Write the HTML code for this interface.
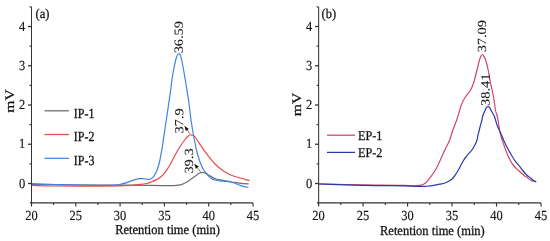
<!DOCTYPE html>
<html><head><meta charset="utf-8"><style>
html,body{margin:0;padding:0;background:#fff;}
svg{display:block;}
text{font-family:"Liberation Serif", "Times New Roman", serif;fill:#111;stroke:#111;stroke-width:0.25px;}
.tl{stroke-width:0.12px;}
.rl{stroke-width:0.05px;}
.ax{stroke:#333;stroke-width:1.35;fill:none;}
.tk{stroke:#333;stroke-width:1.15;fill:none;}
</style></head><body>
<svg width="550" height="241" viewBox="0 0 550 241">
<rect width="550" height="241" fill="#fff"/>
<path d="M31.50,6.90V203.50" class="ax" style="stroke-width:1.05;stroke:#333"/>
<path d="M29.90,202.90H253.00" class="ax"/>
<path d="M28.00,183.50H31.50" class="tk" style="stroke-width:1.3"/>
<text transform="translate(25.20,187.65) scale(1,1.110) skewX(0.1)" text-anchor="end" font-size="12.50" class="tl">0</text>
<path d="M29.50,163.88H31.50" class="tk"/>
<path d="M28.00,144.25H31.50" class="tk" style="stroke-width:1.3"/>
<text transform="translate(25.20,148.40) scale(1,1.110) skewX(0.1)" text-anchor="end" font-size="12.50" class="tl">1</text>
<path d="M29.50,124.62H31.50" class="tk"/>
<path d="M28.00,105.00H31.50" class="tk" style="stroke-width:1.3"/>
<text transform="translate(25.20,109.15) scale(1,1.110) skewX(0.1)" text-anchor="end" font-size="12.50" class="tl">2</text>
<path d="M29.50,85.38H31.50" class="tk"/>
<path d="M28.00,65.75H31.50" class="tk" style="stroke-width:1.3"/>
<text transform="translate(25.20,69.90) scale(1,1.110) skewX(0.1)" text-anchor="end" font-size="12.50" class="tl">3</text>
<path d="M29.50,46.12H31.50" class="tk"/>
<path d="M28.00,26.50H31.50" class="tk" style="stroke-width:1.3"/>
<text transform="translate(25.20,30.65) scale(1,1.110) skewX(0.1)" text-anchor="end" font-size="12.50" class="tl">4</text>
<path d="M29.50,6.88H31.50" class="tk"/>
<path d="M31.50,202.90V206.50" class="tk"/>
<text transform="translate(31.50,219.90) scale(1,1.110) skewX(0.1)" text-anchor="middle" font-size="12.50" class="tl">20</text>
<path d="M53.65,202.90V204.90" class="tk"/>
<path d="M75.80,202.90V206.50" class="tk"/>
<text transform="translate(75.80,219.90) scale(1,1.110) skewX(0.1)" text-anchor="middle" font-size="12.50" class="tl">25</text>
<path d="M97.95,202.90V204.90" class="tk"/>
<path d="M120.10,202.90V206.50" class="tk"/>
<text transform="translate(120.10,219.90) scale(1,1.110) skewX(0.1)" text-anchor="middle" font-size="12.50" class="tl">30</text>
<path d="M142.25,202.90V204.90" class="tk"/>
<path d="M164.40,202.90V206.50" class="tk"/>
<text transform="translate(164.40,219.90) scale(1,1.110) skewX(0.1)" text-anchor="middle" font-size="12.50" class="tl">35</text>
<path d="M186.55,202.90V204.90" class="tk"/>
<path d="M208.70,202.90V206.50" class="tk"/>
<text transform="translate(208.70,219.90) scale(1,1.110) skewX(0.1)" text-anchor="middle" font-size="12.50" class="tl">40</text>
<path d="M230.85,202.90V204.90" class="tk"/>
<path d="M253.00,202.90V206.50" class="tk"/>
<text transform="translate(253.00,219.90) scale(1,1.110) skewX(0.1)" text-anchor="middle" font-size="12.50" class="tl">45</text>
<text transform="translate(167.60,234.00) scale(1,1.090) skewX(0.1)" text-anchor="middle" font-size="12.50">Retention time (min)</text>
<text transform="translate(14.00,101.00) rotate(-90) scale(1.200,1) skewY(0.1)" text-anchor="middle" font-size="13.00">mV</text>
<path d="M318.60,6.90V203.50" class="ax" style="stroke-width:1.2;stroke:#4a4a4a"/>
<path d="M317.00,202.90H541.00" class="ax"/>
<path d="M315.10,183.50H318.60" class="tk" style="stroke-width:1.3"/>
<text transform="translate(312.30,187.65) scale(1,1.110) skewX(0.1)" text-anchor="end" font-size="12.50" class="tl">0</text>
<path d="M316.60,163.88H318.60" class="tk"/>
<path d="M315.10,144.25H318.60" class="tk" style="stroke-width:1.3"/>
<text transform="translate(312.30,148.40) scale(1,1.110) skewX(0.1)" text-anchor="end" font-size="12.50" class="tl">1</text>
<path d="M316.60,124.62H318.60" class="tk"/>
<path d="M315.10,105.00H318.60" class="tk" style="stroke-width:1.3"/>
<text transform="translate(312.30,109.15) scale(1,1.110) skewX(0.1)" text-anchor="end" font-size="12.50" class="tl">2</text>
<path d="M316.60,85.38H318.60" class="tk"/>
<path d="M315.10,65.75H318.60" class="tk" style="stroke-width:1.3"/>
<text transform="translate(312.30,69.90) scale(1,1.110) skewX(0.1)" text-anchor="end" font-size="12.50" class="tl">3</text>
<path d="M316.60,46.12H318.60" class="tk"/>
<path d="M315.10,26.50H318.60" class="tk" style="stroke-width:1.3"/>
<text transform="translate(312.30,30.65) scale(1,1.110) skewX(0.1)" text-anchor="end" font-size="12.50" class="tl">4</text>
<path d="M316.60,6.88H318.60" class="tk"/>
<path d="M318.60,202.90V206.50" class="tk"/>
<text transform="translate(318.60,219.90) scale(1,1.110) skewX(0.1)" text-anchor="middle" font-size="12.50" class="tl">20</text>
<path d="M340.84,202.90V204.90" class="tk"/>
<path d="M363.08,202.90V206.50" class="tk"/>
<text transform="translate(363.08,219.90) scale(1,1.110) skewX(0.1)" text-anchor="middle" font-size="12.50" class="tl">25</text>
<path d="M385.32,202.90V204.90" class="tk"/>
<path d="M407.56,202.90V206.50" class="tk"/>
<text transform="translate(407.56,219.90) scale(1,1.110) skewX(0.1)" text-anchor="middle" font-size="12.50" class="tl">30</text>
<path d="M429.80,202.90V204.90" class="tk"/>
<path d="M452.04,202.90V206.50" class="tk"/>
<text transform="translate(452.04,219.90) scale(1,1.110) skewX(0.1)" text-anchor="middle" font-size="12.50" class="tl">35</text>
<path d="M474.28,202.90V204.90" class="tk"/>
<path d="M496.52,202.90V206.50" class="tk"/>
<text transform="translate(496.52,219.90) scale(1,1.110) skewX(0.1)" text-anchor="middle" font-size="12.50" class="tl">40</text>
<path d="M518.76,202.90V204.90" class="tk"/>
<path d="M541.00,202.90V206.50" class="tk"/>
<text transform="translate(541.00,219.90) scale(1,1.110) skewX(0.1)" text-anchor="middle" font-size="12.50" class="tl">45</text>
<text transform="translate(432.40,234.80) scale(1,1.090) skewX(0.1)" text-anchor="middle" font-size="12.50">Retention time (min)</text>
<text transform="translate(301.10,104.50) rotate(-90) scale(1.200,1) skewY(0.1)" text-anchor="middle" font-size="13.00">mV</text>
<text transform="translate(35.50,17.80) scale(1,1.080) skewX(0.1)" text-anchor="start" font-size="12.50">(a)</text>
<text transform="translate(321.50,17.80) scale(1,1.080) skewX(0.1)" text-anchor="start" font-size="12.50">(b)</text>
<path d="M32.00,184.40 C36.67,184.47 48.67,184.70 60.00,184.80 C71.33,184.90 85.00,184.90 100.00,185.00 C115.00,185.10 138.33,185.28 150.00,185.40 C161.67,185.52 165.33,185.73 170.00,185.70 C174.67,185.67 176.00,185.42 178.00,185.20 C180.00,184.98 180.67,184.83 182.00,184.40 C183.33,183.97 184.58,183.42 186.00,182.60 C187.42,181.78 189.25,180.38 190.50,179.50 C191.75,178.62 192.45,178.07 193.50,177.30 C194.55,176.53 195.75,175.62 196.80,174.90 C197.85,174.18 198.88,173.43 199.80,173.00 C200.72,172.57 201.53,172.35 202.30,172.30 C203.07,172.25 203.62,172.42 204.40,172.70 C205.18,172.98 206.17,173.53 207.00,174.00 C207.83,174.47 208.48,174.95 209.40,175.50 C210.32,176.05 211.47,176.77 212.50,177.30 C213.53,177.83 214.02,178.22 215.60,178.70 C217.18,179.18 219.93,179.78 222.00,180.20 C224.07,180.62 226.00,180.83 228.00,181.20 C230.00,181.57 231.83,182.03 234.00,182.40 C236.17,182.77 238.57,183.15 241.00,183.40 C243.43,183.65 247.33,183.82 248.60,183.90" fill="none" stroke="#6e6e6e" stroke-width="1.2" stroke-linejoin="round"/>
<path d="M32.00,185.40 C36.67,185.50 48.67,185.88 60.00,186.00 C71.33,186.12 89.17,186.15 100.00,186.10 C110.83,186.05 118.33,185.98 125.00,185.70 C131.67,185.42 136.40,184.77 140.00,184.40 C143.60,184.03 144.77,183.90 146.60,183.50 C148.43,183.10 149.43,182.60 151.00,182.00 C152.57,181.40 154.50,180.67 156.00,179.90 C157.50,179.13 158.77,178.33 160.00,177.40 C161.23,176.47 162.23,175.58 163.40,174.30 C164.57,173.02 165.90,171.28 167.00,169.70 C168.10,168.12 168.67,167.22 170.00,164.80 C171.33,162.38 173.33,158.20 175.00,155.20 C176.67,152.20 178.33,149.42 180.00,146.80 C181.67,144.18 183.67,141.27 185.00,139.50 C186.33,137.73 187.12,136.95 188.00,136.20 C188.88,135.45 189.55,135.15 190.30,135.00 C191.05,134.85 191.72,134.98 192.50,135.30 C193.28,135.62 193.75,135.38 195.00,136.90 C196.25,138.42 198.33,141.93 200.00,144.40 C201.67,146.87 203.33,149.40 205.00,151.70 C206.67,154.00 208.33,156.15 210.00,158.20 C211.67,160.25 213.67,162.58 215.00,164.00 C216.33,165.42 216.75,165.65 218.00,166.70 C219.25,167.75 221.17,169.32 222.50,170.30 C223.83,171.28 224.75,171.87 226.00,172.60 C227.25,173.33 228.50,174.05 230.00,174.70 C231.50,175.35 233.33,175.95 235.00,176.50 C236.67,177.05 238.33,177.53 240.00,178.00 C241.67,178.47 243.40,178.87 245.00,179.30 C246.60,179.73 248.83,180.38 249.60,180.60" fill="none" stroke="#ec4a4a" stroke-width="1.2" stroke-linejoin="round"/>
<path d="M32.00,183.60 C36.67,183.77 48.67,184.32 60.00,184.60 C71.33,184.88 90.67,185.23 100.00,185.30 C109.33,185.37 112.33,185.23 116.00,185.00 C119.67,184.77 120.17,184.30 122.00,183.90 C123.83,183.50 125.33,183.15 127.00,182.60 C128.67,182.05 130.08,181.25 132.00,180.60 C133.92,179.95 136.67,179.02 138.50,178.70 C140.33,178.38 141.48,178.60 143.00,178.70 C144.52,178.80 146.23,179.30 147.60,179.30 C148.97,179.30 150.17,179.20 151.20,178.70 C152.23,178.20 153.00,177.32 153.80,176.30 C154.60,175.28 155.30,174.07 156.00,172.60 C156.70,171.13 157.38,169.40 158.00,167.50 C158.62,165.60 159.17,163.62 159.70,161.20 C160.23,158.78 160.78,155.20 161.20,153.00 C161.62,150.80 161.70,151.17 162.20,148.00 C162.70,144.83 163.52,138.67 164.20,134.00 C164.88,129.33 165.58,124.83 166.30,120.00 C167.02,115.17 167.77,110.00 168.50,105.00 C169.23,100.00 170.13,94.17 170.70,90.00 C171.27,85.83 171.42,83.33 171.90,80.00 C172.38,76.67 172.97,73.33 173.60,70.00 C174.23,66.67 175.07,62.47 175.70,60.00 C176.33,57.53 176.83,56.27 177.40,55.20 C177.97,54.13 178.58,53.60 179.10,53.60 C179.62,53.60 180.07,54.13 180.50,55.20 C180.93,56.27 181.18,57.53 181.70,60.00 C182.22,62.47 183.00,66.67 183.60,70.00 C184.20,73.33 184.75,76.67 185.30,80.00 C185.85,83.33 186.37,86.67 186.90,90.00 C187.43,93.33 188.02,96.67 188.50,100.00 C188.98,103.33 189.38,106.67 189.80,110.00 C190.22,113.33 190.53,116.67 191.00,120.00 C191.47,123.33 192.03,126.67 192.60,130.00 C193.17,133.33 193.73,136.58 194.40,140.00 C195.07,143.42 195.75,147.08 196.60,150.50 C197.45,153.92 198.73,158.08 199.50,160.50 C200.27,162.92 200.63,163.67 201.20,165.00 C201.77,166.33 202.28,167.40 202.90,168.50 C203.52,169.60 204.18,170.58 204.90,171.60 C205.62,172.62 206.42,173.68 207.20,174.60 C207.98,175.52 208.77,176.38 209.60,177.10 C210.43,177.82 211.30,178.42 212.20,178.90 C213.10,179.38 213.70,179.67 215.00,180.00 C216.30,180.33 218.33,180.68 220.00,180.90 C221.67,181.12 223.33,181.13 225.00,181.30 C226.67,181.47 228.33,181.57 230.00,181.90 C231.67,182.23 233.33,182.73 235.00,183.30 C236.67,183.87 238.50,184.75 240.00,185.30 C241.50,185.85 242.58,186.25 244.00,186.60 C245.42,186.95 247.75,187.27 248.50,187.40" fill="none" stroke="#3e82e4" stroke-width="1.2" stroke-linejoin="round"/>
<path d="M318.80,183.80 C323.17,183.92 335.47,184.30 345.00,184.50 C354.53,184.70 366.83,184.87 376.00,185.00 C385.17,185.13 395.17,185.23 400.00,185.30 C404.83,185.37 402.50,185.30 405.00,185.40 C407.50,185.50 412.50,185.90 415.00,185.90 C417.50,185.90 418.50,185.72 420.00,185.40 C421.50,185.08 422.83,184.63 424.00,184.00 C425.17,183.37 425.98,182.68 427.00,181.60 C428.02,180.52 428.73,179.35 430.10,177.50 C431.47,175.65 433.53,173.33 435.20,170.50 C436.87,167.67 438.53,163.83 440.10,160.50 C441.67,157.17 443.03,153.83 444.60,150.50 C446.17,147.17 448.15,143.83 449.50,140.50 C450.85,137.17 451.53,133.83 452.70,130.50 C453.87,127.17 455.35,123.83 456.50,120.50 C457.65,117.17 458.82,113.00 459.60,110.50 C460.38,108.00 460.58,107.17 461.20,105.50 C461.82,103.83 462.43,102.17 463.30,100.50 C464.17,98.83 465.23,97.17 466.40,95.50 C467.57,93.83 469.27,92.17 470.30,90.50 C471.33,88.83 471.93,87.17 472.60,85.50 C473.27,83.83 473.58,83.00 474.30,80.50 C475.02,78.00 476.07,73.83 476.90,70.50 C477.73,67.17 478.63,62.87 479.30,60.50 C479.97,58.13 480.40,57.30 480.90,56.30 C481.40,55.30 481.80,54.50 482.30,54.50 C482.80,54.50 483.32,55.30 483.90,56.30 C484.48,57.30 485.07,58.13 485.80,60.50 C486.53,62.87 487.60,67.17 488.30,70.50 C489.00,73.83 489.55,78.00 490.00,80.50 C490.45,83.00 490.63,83.83 491.00,85.50 C491.37,87.17 491.68,88.00 492.20,90.50 C492.72,93.00 493.55,97.17 494.10,100.50 C494.65,103.83 495.02,108.00 495.50,110.50 C495.98,113.00 496.57,113.83 497.00,115.50 C497.43,117.17 497.78,118.83 498.10,120.50 C498.42,122.17 498.65,123.83 498.90,125.50 C499.15,127.17 499.28,128.83 499.60,130.50 C499.92,132.17 500.35,133.83 500.80,135.50 C501.25,137.17 501.75,138.83 502.30,140.50 C502.85,142.17 503.52,143.83 504.10,145.50 C504.68,147.17 504.77,148.00 505.80,150.50 C506.83,153.00 509.00,158.00 510.30,160.50 C511.60,163.00 512.23,163.83 513.60,165.50 C514.97,167.17 516.75,168.83 518.50,170.50 C520.25,172.17 522.65,174.33 524.10,175.50 C525.55,176.67 526.03,176.67 527.20,177.50 C528.37,178.33 529.60,179.75 531.10,180.50 C532.60,181.25 535.35,181.75 536.20,182.00" fill="none" stroke="#d0456a" stroke-width="1.2" stroke-linejoin="round"/>
<path d="M318.80,184.00 C323.17,184.13 335.47,184.53 345.00,184.80 C354.53,185.07 366.00,185.42 376.00,185.60 C386.00,185.78 398.50,185.78 405.00,185.90 C411.50,186.02 411.67,186.23 415.00,186.30 C418.33,186.37 422.50,186.37 425.00,186.30 C427.50,186.23 428.33,186.08 430.00,185.90 C431.67,185.72 433.33,185.48 435.00,185.20 C436.67,184.92 438.33,184.57 440.00,184.20 C441.67,183.83 443.33,183.60 445.00,183.00 C446.67,182.40 448.60,181.52 450.00,180.60 C451.40,179.68 452.05,179.18 453.40,177.50 C454.75,175.82 456.42,173.33 458.10,170.50 C459.78,167.67 462.00,163.00 463.50,160.50 C465.00,158.00 465.77,157.17 467.10,155.50 C468.43,153.83 470.25,152.17 471.50,150.50 C472.75,148.83 473.70,147.17 474.60,145.50 C475.50,143.83 476.35,142.17 476.90,140.50 C477.45,138.83 477.52,137.17 477.90,135.50 C478.28,133.83 478.78,132.17 479.20,130.50 C479.62,128.83 479.97,127.17 480.40,125.50 C480.83,123.83 481.38,122.17 481.80,120.50 C482.22,118.83 482.35,117.20 482.90,115.50 C483.45,113.80 484.50,111.65 485.10,110.30 C485.70,108.95 486.02,108.03 486.50,107.40 C486.98,106.77 487.50,106.50 488.00,106.50 C488.50,106.50 489.00,106.77 489.50,107.40 C490.00,108.03 490.25,108.95 491.00,110.30 C491.75,111.65 493.22,113.80 494.00,115.50 C494.78,117.20 495.17,118.83 495.70,120.50 C496.23,122.17 496.57,123.83 497.20,125.50 C497.83,127.17 498.75,128.83 499.50,130.50 C500.25,132.17 500.98,133.83 501.70,135.50 C502.42,137.17 503.07,138.83 503.80,140.50 C504.53,142.17 505.27,143.83 506.10,145.50 C506.93,147.17 507.35,148.00 508.80,150.50 C510.25,153.00 513.10,158.00 514.80,160.50 C516.50,163.00 517.68,163.83 519.00,165.50 C520.32,167.17 521.33,168.83 522.70,170.50 C524.07,172.17 525.98,174.33 527.20,175.50 C528.42,176.67 528.98,176.67 530.00,177.50 C531.02,178.33 532.27,179.82 533.30,180.50 C534.33,181.18 535.72,181.42 536.20,181.60" fill="none" stroke="#2b3aa8" stroke-width="1.2" stroke-linejoin="round"/>
<path d="M44.50,110.80H69.00" stroke="#6a6a6a" stroke-width="1.25"/>
<text transform="translate(73.80,117.70) scale(1,1.160) skewX(0.1)" text-anchor="start" font-size="12.00">IP-1</text>
<path d="M44.50,134.50H69.00" stroke="#ec4a4a" stroke-width="1.25"/>
<text transform="translate(73.80,141.40) scale(1,1.160) skewX(0.1)" text-anchor="start" font-size="12.00">IP-2</text>
<path d="M44.50,158.30H69.00" stroke="#3e82e4" stroke-width="1.25"/>
<text transform="translate(73.80,165.20) scale(1,1.160) skewX(0.1)" text-anchor="start" font-size="12.00">IP-3</text>
<path d="M327.00,135.20H355.00" stroke="#d0456a" stroke-width="1.25"/>
<text transform="translate(358.00,139.90) scale(1,1.100) skewX(0.1)" text-anchor="start" font-size="12.20">EP-1</text>
<path d="M327.00,152.40H355.00" stroke="#2b3aa8" stroke-width="1.25"/>
<text transform="translate(358.00,157.10) scale(1,1.100) skewX(0.1)" text-anchor="start" font-size="12.20">EP-2</text>
<text transform="translate(182.80,37.20) rotate(-90) scale(1.150,1) skewY(0.1)" text-anchor="middle" font-size="12.50" class="rl">36.59</text>
<text transform="translate(183.30,121.00) rotate(-90) scale(1.150,1) skewY(0.1)" text-anchor="middle" font-size="12.50" class="rl">37.9</text>
<text transform="translate(193.00,161.00) rotate(-90) scale(1.150,1) skewY(0.1)" text-anchor="middle" font-size="12.50" class="rl">39.3</text>
<text transform="translate(486.10,36.20) rotate(-90) scale(1.150,1) skewY(0.1)" text-anchor="middle" font-size="12.50" class="rl">37.09</text>
<text transform="translate(489.40,89.80) rotate(-90) scale(1.150,1) skewY(0.1)" text-anchor="middle" font-size="12.50" class="rl">38.41</text>
<path d="M184.60,126.00L190.00,134.00" stroke="#555" stroke-width="0.75"/>
<path d="M184.60,126.00L188.86,128.92L185.71,131.04Z" fill="#111"/>
<path d="M194.40,163.90L200.60,172.00" stroke="#555" stroke-width="0.75"/>
<path d="M194.40,163.90L198.83,166.56L195.81,168.87Z" fill="#111"/>
</svg>
</body></html>
